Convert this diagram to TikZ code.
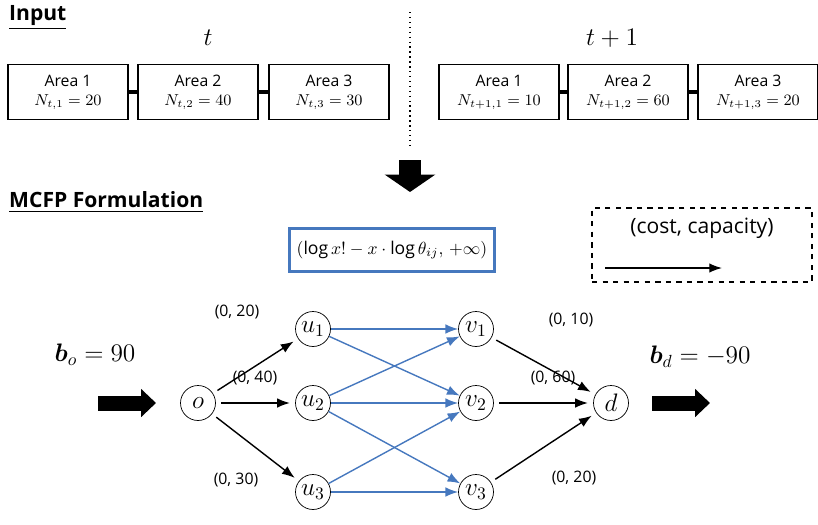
\documentclass[tikz,border=0pt]{standalone}
\usepackage{amsmath,bm}
\usepackage{fontspec}
\setmainfont{Open Sans}
\usetikzlibrary{arrows.meta}
\tikzset{
  >={Latex[scale=1.1]},
  area/.style={draw, thick, minimum width=2.4cm, minimum height=1.1cm, align=center, inner sep=1pt, font=\small},
  vert/.style={draw, circle, minimum size=0.7cm, inner sep=0, font=\Large},
  flow/.style={->, thick},
  bflow/.style={->, thick, draw={rgb,255:red,70;green,120;blue,190}},
  lbl/.style={font=\small},
  bigarrow/.style={-{Triangle[length=0.3cm,width=0.55cm]}, line width=0.3cm}
}
\begin{document}
\begin{tikzpicture}[x=0.02cm, y=-0.02cm]
  \useasboundingbox (0,0) rectangle (818,524);

  % input
  \node[anchor=west, font=\bfseries\large] (inp) at (3,18) {\underline{Input}};
  \node[font=\Large] (tt) at (208,38) {$t$};
  \node[font=\Large] (tt1) at (612,38) {$t+1$};

  \node[area] (a1) at (68,92) {Area 1\\$N_{t,1}=20$};
  \node[area] (a2) at (198,92) {Area 2\\$N_{t,2}=40$};
  \node[area] (a3) at (329,92) {Area 3\\$N_{t,3}=30$};
  \node[area] (b1) at (499,92) {Area 1\\$N_{t+1,1}=10$};
  \node[area] (b2) at (628,92) {Area 2\\$N_{t+1,2}=60$};
  \node[area] (b3) at (758,92) {Area 3\\$N_{t+1,3}=20$};
  \draw[line width=2.5pt] (a1) -- (a2);
  \draw[line width=2.5pt] (a2) -- (a3);
  \draw[line width=2.5pt] (b1) -- (b2);
  \draw[line width=2.5pt] (b2) -- (b3);

  \coordinate (dt) at (410,12);
  \coordinate (db) at (410,145);
  \draw[thick, dotted, line width=1.5pt] (dt) -- (db);
  \coordinate (ds) at (410,160);
  \coordinate (de) at (410,192);
  \draw[-{Triangle[length=0.35cm,width=1.0cm]}, line width=0.45cm] (ds) -- (de);

  % formulation
  \node[anchor=west, font=\bfseries\large] (mcfp) at (3,202) {\underline{MCFP Formulation}};
  \node[draw={rgb,255:red,70;green,120;blue,190}, line width=1.5pt, inner xsep=4pt, minimum height=0.86cm, font=\normalsize] (bl) at (392,250)
    {$(\log x!-x\cdot\log\theta_{ij},\,+\infty)$};
  \node[draw, dashed, thick, minimum width=4.4cm, minimum height=1.48cm] (leg) at (702,245) {};
  \node[font=\large] (legt) at (702,228) {(cost, capacity)};
  \coordinate (ls) at (605,268);
  \coordinate (le) at (722,268);
  \draw[flow] (ls) -- (le);

  \node[vert] (o) at (198,403) {$o$};
  \node[vert] (u1) at (313,329) {$u_1$};
  \node[vert] (u2) at (313,403) {$u_2$};
  \node[vert] (u3) at (313,492) {$u_3$};
  \node[vert] (v1) at (476,329) {$v_1$};
  \node[vert] (v2) at (476,403) {$v_2$};
  \node[vert] (v3) at (476,492) {$v_3$};
  \node[vert] (d) at (611,403) {$d$};

  \draw[flow, shorten <=3pt, shorten >=3pt] (o) -- (u1);
  \draw[flow, shorten <=3pt, shorten >=3pt] (o) -- (u2);
  \draw[flow, shorten <=3pt, shorten >=3pt] (o) -- (u3);
  \draw[flow, shorten <=3pt, shorten >=3pt] (v1) -- (d);
  \draw[flow, shorten <=3pt, shorten >=3pt] (v2) -- (d);
  \draw[flow, shorten <=3pt, shorten >=3pt] (v3) -- (d);

  \draw[bflow] (u1) -- (v1);
  \draw[bflow] (u1) -- (v2);
  \draw[bflow] (u2) -- (v1);
  \draw[bflow] (u2) -- (v2);
  \draw[bflow] (u2) -- (v3);
  \draw[bflow] (u3) -- (v2);
  \draw[bflow] (u3) -- (v3);

  \node[lbl] (l1) at (237,312) {(0, 20)};
  \node[lbl] (l2) at (255,378) {(0, 40)};
  \node[lbl] (l3) at (236,480) {(0, 30)};
  \node[lbl] (l4) at (571,320) {(0, 10)};
  \node[lbl] (l5) at (553,378) {(0, 60)};
  \node[lbl] (l6) at (574,478) {(0, 20)};

  \node[font=\Large] (bo) at (95,355) {$\bm{b}_o=90$};
  \node[font=\Large] (bd) at (700,357) {$\bm{b}_d=-90$};
  \coordinate (bos) at (98,403);
  \coordinate (boe) at (156,403);
  \coordinate (bds) at (652,403);
  \coordinate (bde) at (710,403);
  \draw[bigarrow] (bos) -- (boe);
  \draw[bigarrow] (bds) -- (bde);
\end{tikzpicture}
\end{document}
